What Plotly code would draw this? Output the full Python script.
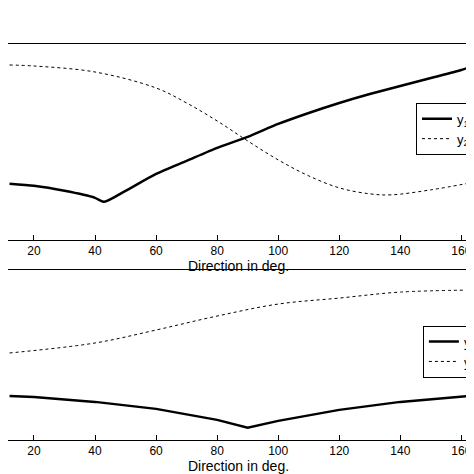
import plotly.graph_objects as go
from plotly.subplots import make_subplots

# top panel
x_top = [12, 20, 30, 40, 43, 50, 60, 70, 80, 90, 100, 110, 120, 130, 140, 150, 160, 163]
y1_top = [56, 54, 49, 42, 38, 49, 66, 79, 92, 103, 116, 127, 137, 146, 154, 162, 170, 173]
x_top2 = [12, 20, 40, 60, 70, 80, 90, 100, 110, 120, 130, 137, 150, 163]
y2_top = [175, 174, 168, 152, 137, 119, 99, 80, 64, 52, 46, 45, 50, 57]

# bottom panel
x_bot = [12, 20, 40, 60, 80, 90, 100, 120, 140, 163]
y1_bot = [44, 43, 38, 31, 20, 12, 19, 30, 38, 44]
x_bot2 = [12, 40, 60, 80, 100, 120, 140, 163]
y2_bot = [87, 97, 110, 124, 136, 142, 148, 150]

fig = make_subplots(rows=2, cols=1)
fig.add_trace(go.Scatter(x=x_top, y=y1_top, mode='lines', name='y<sub>1</sub>',
                         line=dict(color='black', width=2.5, shape='spline', smoothing=0.6),
                         legend='legend'), 1, 1)
fig.add_trace(go.Scatter(x=x_top2, y=y2_top, mode='lines', name='y<sub>2</sub>',
                         line=dict(color='black', width=1, dash='dot', shape='spline'),
                         legend='legend'), 1, 1)
fig.add_trace(go.Scatter(x=x_bot, y=y1_bot, mode='lines', name='y<sub>1</sub>',
                         line=dict(color='black', width=2.5), legend='legend2'), 2, 1)
fig.add_trace(go.Scatter(x=x_bot2, y=y2_bot, mode='lines', name='y<sub>2</sub>',
                         line=dict(color='black', width=1, dash='dot', shape='spline'),
                         legend='legend2'), 2, 1)

ax = dict(showline=True, mirror=True, linecolor='black', linewidth=1, ticks='inside',
          ticklen=5, tickcolor='black', showgrid=False, zeroline=False,
          range=[11.5, 162.5], tickvals=[20, 40, 60, 80, 100, 120, 140, 160],
          title=dict(text='Direction in deg.', standoff=2, font=dict(size=14)))
fig.update_xaxes(**ax)
fig.update_yaxes(showline=True, mirror=True, linecolor='black', showgrid=False,
                 zeroline=False, showticklabels=False, ticks='')
fig.update_yaxes(range=[0, 196], domain=[0.511, 0.924], row=1, col=1)
fig.update_yaxes(range=[0, 170], domain=[0.089, 0.447], row=2, col=1)

leg = dict(bgcolor='white', bordercolor='black', borderwidth=1, xanchor='left',
           yanchor='top', itemwidth=30, font=dict(size=13, color='black'))
fig.update_layout(
    width=474, height=474, margin=dict(l=0, r=0, t=0, b=0),
    plot_bgcolor='white', paper_bgcolor='white',
    font=dict(family='Liberation Sans', color='black', size=12),
    legend=dict(x=0.885, y=0.80, **leg),
    legend2=dict(x=0.9, y=0.33, **leg),
)
fig.write_html("out.html")
